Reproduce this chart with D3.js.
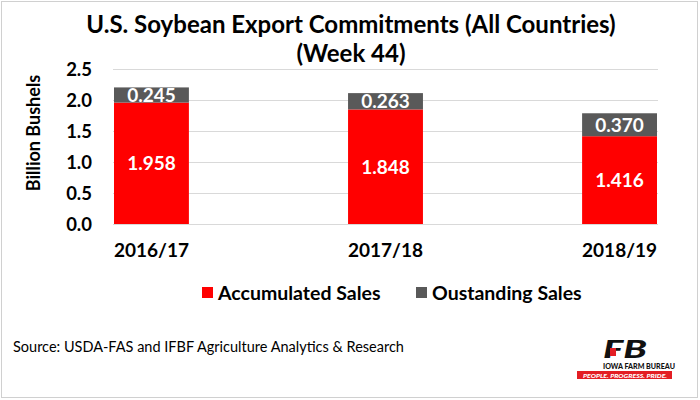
<!DOCTYPE html>
<html>
<head>
<meta charset="utf-8">
<script src="https://cdn.jsdelivr.net/npm/d3@7"></script>
<style>
  body { margin: 0; background: #fff; }
  svg { font-family: Lato, "Open Sans", sans-serif; }
</style>
</head>
<body>
<svg id="chart" width="700" height="400"></svg>
<script>
// chart data
const years = ["2016/17", "2017/18", "2018/19"];
const accumulated = [1.958, 1.848, 1.416];
const outstanding = [0.245, 0.263, 0.370];
const yTicks = [0, 0.5, 1.0, 1.5, 2.0, 2.5];
const seriesNames = ["Accumulated Sales", "Oustanding Sales"];
const colors = ["#ff0000", "#595959"];

const svg = d3.select("#chart");

// outer border
svg.append("rect")
  .attr("x", 1.5).attr("y", 1.5)
  .attr("width", 696).attr("height", 396)
  .attr("fill", "#fff").attr("stroke", "#d0d0d0");

// title
svg.append("text")
  .attr("x", 351).attr("y", 33)
  .attr("text-anchor", "middle")
  .style("font-size", "24px").style("font-weight", "bold")
  .text("U.S. Soybean Export Commitments (All Countries)");
svg.append("text")
  .attr("x", 351).attr("y", 62)
  .attr("text-anchor", "middle")
  .style("font-size", "24px").style("font-weight", "bold")
  .text("(Week 44)");

// scales
let x = d3.scaleBand()
  .domain(years)
  .range([114, 657])
  .paddingInner(0.68)
  .paddingOuter(0);

let y = d3.scaleLinear()
  .domain([0, 2.5])
  .range([224, 69]);

// gridlines
svg.append("g")
  .selectAll("line")
  .data(yTicks)
  .enter().append("line")
  .attr("x1", 113).attr("x2", 658)
  .attr("y1", d => Math.round(y(d)) + 0.5)
  .attr("y2", d => Math.round(y(d)) + 0.5)
  .attr("stroke", "#d9d9d9").attr("stroke-width", 1);

// y axis labels
let yAxis = svg.append("g")
  .attr("transform", "translate(92,0)")
  .call(d3.axisLeft(y).tickValues(yTicks).tickFormat(d3.format(".1f")).tickSize(0).tickPadding(0));
yAxis.select(".domain").remove();
yAxis.selectAll("text")
  .attr("dy", "0.35em")
  .style("font-family", "Lato, sans-serif")
  .style("font-size", "18.5px").style("font-weight", "bold").attr("fill", "#000");

// x axis labels
let xAxis = svg.append("g")
  .attr("transform", "translate(0,257)")
  .call(d3.axisBottom(x).tickSize(0).tickPadding(0));
xAxis.select(".domain").remove();
xAxis.selectAll("text")
  .attr("dy", 0)
  .style("font-family", "Lato, sans-serif")
  .style("font-size", "19px").style("font-weight", "bold").attr("fill", "#000");

// y axis title
svg.append("text")
  .attr("transform", "translate(40,133) rotate(-90)")
  .attr("text-anchor", "middle")
  .style("font-size", "18px").style("font-weight", "bold")
  .text("Billion Bushels");

// stacked bars
let stackData = years.map((yr, i) => ({year: yr, acc: accumulated[i], out: outstanding[i]}));
let stack = d3.stack().keys(["acc", "out"]);
let layers = stack(stackData);

let layer = svg.selectAll(".layer")
  .data(layers)
  .enter().append("g")
  .attr("class", "layer")
  .attr("fill", (d, i) => colors[i]);

layer.selectAll("rect")
  .data(d => d)
  .enter().append("rect")
  .attr("x", d => x(d.data.year))
  .attr("y", d => y(d[1]))
  .attr("width", x.bandwidth())
  .attr("height", d => y(d[0]) - y(d[1]));

layer.selectAll(".val")
  .data(d => d)
  .enter().append("text")
  .attr("class", "val")
  .attr("x", d => x(d.data.year) + x.bandwidth() / 2)
  .attr("y", d => (y(d[0]) + y(d[1])) / 2)
  .attr("dy", "0.36em")
  .attr("text-anchor", "middle")
  .attr("fill", "#fff")
  .style("font-size", "19px").style("font-weight", "bold")
  .text(d => d3.format(".3f")(d[1] - d[0]));

// legend
let legendX = [202, 416];
let legend = svg.selectAll(".legend")
  .data(seriesNames)
  .enter().append("g")
  .attr("class", "legend")
  .attr("transform", (d, i) => "translate(" + legendX[i] + ",287)");
legend.append("rect")
  .attr("width", 11).attr("height", 11)
  .attr("fill", (d, i) => colors[i]);
legend.append("text")
  .attr("x", 16).attr("y", 6)
  .attr("dy", "0.36em")
  .style("font-size", "19.5px").style("font-weight", "bold")
  .text(d => d);

// source
svg.append("text")
  .attr("x", 13).attr("y", 352)
  .style("font-size", "14.5px")
  .attr("fill", "#000")
  .text("Source: USDA-FAS and IFBF Agriculture Analytics & Research");

// logo (approximation)
svg.append("text")
  .attr("x", 603).attr("y", 358)
  .attr("textLength", 44).attr("lengthAdjust", "spacingAndGlyphs")
  .style("font-size", "25px").style("font-weight", "900").style("font-style", "italic")
  .attr("fill", "#111")
  .text("FB");
svg.append("rect")
  .attr("x", 610).attr("y", 348).attr("width", 6).attr("height", 8)
  .attr("fill", "#e31e24");
svg.append("text")
  .attr("x", 603).attr("y", 368.5)
  .attr("textLength", 72).attr("lengthAdjust", "spacingAndGlyphs")
  .style("font-size", "7.5px").style("font-weight", "900")
  .attr("fill", "#111")
  .text("IOWA FARM BUREAU");
svg.append("rect")
  .attr("x", 577).attr("y", 371).attr("width", 95).attr("height", 8)
  .attr("fill", "#e31e24");
svg.append("text")
  .attr("x", 583).attr("y", 377.5)
  .attr("textLength", 84).attr("lengthAdjust", "spacingAndGlyphs")
  .style("font-size", "6px").style("font-weight", "900").style("font-style", "italic")
  .attr("fill", "#fff")
  .text("PEOPLE. PROGRESS. PRIDE.");
</script>
</body>
</html>
